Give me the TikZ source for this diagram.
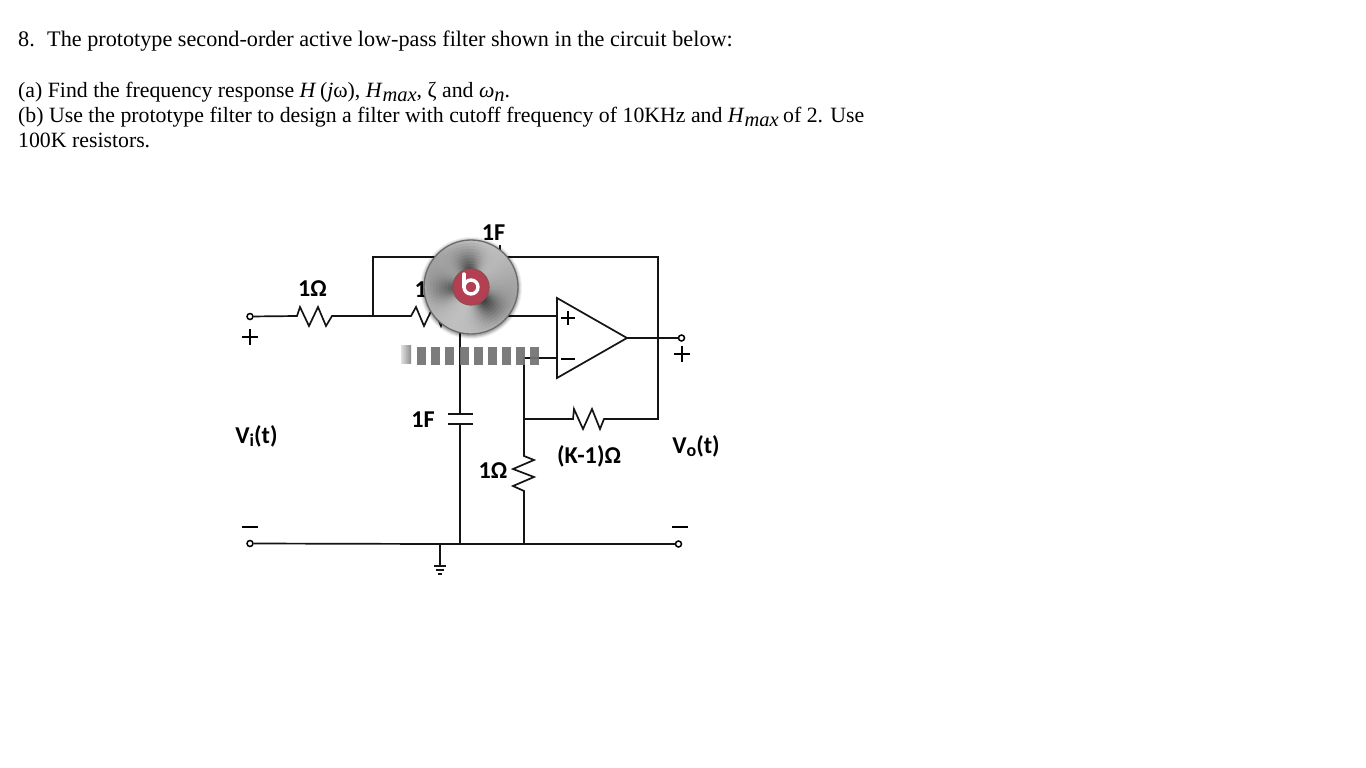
\documentclass[tikz,border=0pt]{standalone}
\usepackage{fontspec}
\setmainfont{Liberation Serif}
\newfontfamily\labfont{Carlito}[BoldFont={Carlito Bold}]
\newcommand{\subtxt}[1]{\raisebox{-4.5pt}{\fontsize{20.5}{20.5}\selectfont\textit{#1}}}
\newcommand{\lbsub}[1]{\raisebox{-3pt}{\fontsize{18}{18}\selectfont #1}}
\tikzset{
  txt/.style={anchor=base west,inner sep=0pt,font=\fontsize{21.8}{21.8}\selectfont},
  txtone/.style={anchor=base west,inner sep=0pt,font=\fontsize{22.2}{22.2}\selectfont},
  lab/.style={inner sep=0pt,font=\labfont\bfseries\fontsize{24.2}{24.2}\selectfont},
  wire/.style={draw=black!92,line width=1.7pt,line join=miter},
  term/.style={circle,draw=black,line width=1.5pt,fill=white,minimum size=6pt,inner sep=0pt},
  sign/.style={draw=black,line width=1.7pt},
  blk/.style={fill=black!55,draw=none,opacity=.93}
}
\begin{document}
\begin{tikzpicture}[x=1pt,y=-1pt]
\useasboundingbox[fill=white] (0,0) rectangle (1366,768);

% question text
\node[txtone] (q0) at (18,47) {8.};
\node[txtone] (q1) at (47,47) {The prototype second-order active low-pass filter shown in the circuit below:};
\node[txt] (qa) at (18,97) {(a) Find the frequency response \textit{H}\,(\textit{j}ω), \textit{H}\subtxt{max}, ζ and \textit{ω}\subtxt{n}.};
\node[txt] (qb) at (18,122) {(b) Use the prototype filter to design a filter with cutoff frequency of 10KHz and \textit{H}\subtxt{max}};
\node[txt] (qb2) at (783,122) {of 2. Use};
\node[txt] (qc) at (18,147.5) {100K resistors.};

% circuit points
\node[term] (tin) at (250,316.5) {};
\node[term] (tgl) at (250,543.5) {};
\node[term] (tout) at (681.5,338) {};
\node[term] (tgr) at (678.5,544) {};
\coordinate (r1a) at (297,316);
\coordinate (r1b) at (332,316);
\coordinate (j1) at (373,316);
\coordinate (jtl) at (373,257);
\coordinate (jtr) at (658,257);
\coordinate (r2a) at (411,316);
\coordinate (r2b) at (445,316);
\coordinate (jp) at (557,316);
\coordinate (jm) at (557,358);
\coordinate (oA) at (557,298);
\coordinate (oB) at (557,378);
\coordinate (oC) at (627,338);
\coordinate (jo) at (658,338);
\coordinate (jr) at (658,419);
\coordinate (r3a) at (573,419);
\coordinate (r3b) at (616,419);
\coordinate (jfb) at (524,419);
\coordinate (jmt) at (524,358);
\coordinate (r4a) at (524,456);
\coordinate (r4b) at (524,491);
\coordinate (jg2) at (524,544);
\coordinate (jc) at (460,316);
\coordinate (c1) at (460,414);
\coordinate (c2) at (460,424);
\coordinate (jg1) at (460,544);
\coordinate (jgnd) at (440,544);
\coordinate (gnd) at (440,565);
\coordinate (ctick) at (500,245);
\coordinate (ctickb) at (500,250);

% wires
\draw[wire] (tin) -- (r1a) -- ++(3,-9) -- ++(9,19) -- ++(9,-19) -- ++(8,19) -- (r1b) -- (j1) -- (r2a)
  -- ++(5,-9) -- ++(8,19) -- ++(9,-19) -- ++(8,19) -- (r2b) -- (jp);
\draw[wire] (j1) -- (jtl) -- (jtr) -- (jr) -- (r3b) -- ++(-12,0) -- ++(-4,10) -- ++(-8,-20) -- ++(-9,20) -- ++(-9,-20) -- (r3a) -- (jfb);
\draw[wire] (jm) -- (jmt) -- (jfb) -- (r4a) -- ++(10,4) -- ++(-21,9) -- ++(21,8) -- ++(-21,9) -- (r4b) -- (jg2);
\draw[wire] (jc) -- (c1);
\draw[wire] (c2) -- (jg1);
\draw[wire] (448,414) -- (473,414);
\draw[wire] (448,424) -- (473,424);
\draw[wire] (tgl) -- (jgnd) -- (jg1) -- (jg2) -- (tgr);
\draw[wire] (oC) -- (jo) -- (tout);
\draw[wire] (jgnd) -- (gnd);
\draw[wire] (434,566) -- (446,566);
\draw[wire] (436,570) -- (444,570);
\draw[wire] (438,574) -- (442,574);
\draw[wire] (ctick) -- (ctickb);
\draw[wire,fill=white] (oA) -- (oB) -- (oC) -- cycle;

% signs
\draw[sign] (561,318) -- (575,318) (568,311) -- (568,325);
\draw[sign] (561,359) -- (575,359);
\draw[sign] (242,337) -- (258,337) (250,329) -- (250,345);
\draw[sign] (674,354) -- (690,354) (682,346) -- (682,362);
\draw[sign] (242,527) -- (258,527);
\draw[sign] (672,527) -- (688,527);

% labels
\node[lab] (l1) at (312.5,289) {1Ω};
\node[lab] (l2) at (429,290) {1Ω};
\node[lab] (l3) at (493.5,232.5) {1F};
\node[lab] (l4) at (423,419.5) {1F};
\node[lab] (l5) at (493,470.5) {1Ω};
\node[lab] (l6) at (589,456.5) {(K-1)Ω};
\node[lab] (l7) at (256.5,436.5) {V\lbsub{i}(t)};
\node[lab] (l8) at (696,446) {V\lbsub{o}(t)};

% progress bar overlay
\foreach \i in {0,...,8} {
  \fill[blk] ({417+14.17*\i},347) rectangle ++(9,18);
}
\shade[left color=black!12,right color=black!45] (401,345) rectangle (411,363);

% disc shadow
\foreach \r/\o in {51/.05,50/.08,49/.1,48/.14} {
  \fill[black,opacity=\o] (471,288) circle[radius=\r];
}
% disc body: rings of wedges, outermost first
\foreach \r in {47,44,...,20} {
  \pgfmathsetmacro{\fr}{max(0,1-(\r-18)/29)}
  \foreach \a in {0,5,...,355} {
    \pgfmathsetmacro{\ang}{\a+2.5}
    \pgfmathsetmacro{\dk}{max(0,cos(\ang-95))^8+max(0,cos(\ang-312))^8+0.7*max(0,cos(\ang-185))^10}
    \pgfmathsetmacro{\g}{31+6*cos(2*\ang+40)+44*\dk*\fr}
    \fill[black!\g!white] (471,287) -- ++(-\a:\r) arc[start angle=-\a,end angle={-\a-5.6},radius=\r] -- cycle;
  }
}
\draw[black!58,line width=1.3pt] (471,287) circle[radius=47];
% badge
\fill[black!65!red!70!white] (471,287) circle[radius=18.6];
\fill[fill={rgb,255:red,178;green,64;blue,82}] (471,287) circle[radius=17.6];
\draw[white,line width=3.4pt] (471,287) circle[radius=7];
\draw[white,line width=3.4pt,line cap=round] (464,287) -- (464,274);
\end{tikzpicture}
\end{document}
